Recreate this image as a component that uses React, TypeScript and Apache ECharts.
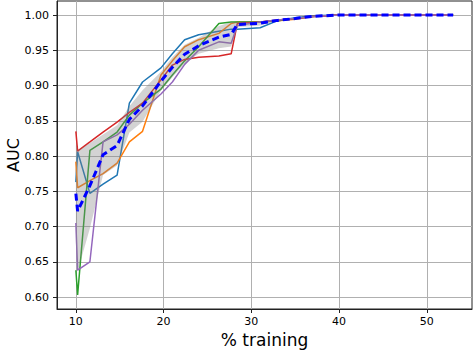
import React, { useEffect, useRef } from "react";
import * as echarts from "echarts";

const xPct = [10, 10.2, 11.6, 13.1, 14.7, 16.1, 17.6, 19.7, 21.0, 22.4, 24.0, 26.3, 27.7, 28.4, 31.0, 33.0, 35.0, 37.0, 40.0, 53.0];

const run0 = [0.763, 0.806, 0.747, 0.760, 0.773, 0.875, 0.905, 0.925, 0.945, 0.965, 0.972, 0.977, 0.980, 0.980, 0.982, 0.992, 0.996, 0.999, 1.0, 1.0];
const run1 = [0.792, 0.755, 0.765, 0.775, 0.790, 0.820, 0.835, 0.915, 0.935, 0.955, 0.965, 0.974, 0.988, 0.990, 0.990, 0.992, 0.994, 0.998, 1.0, 1.0];
const run2 = [0.638, 0.603, 0.808, 0.820, 0.834, 0.858, 0.875, 0.895, 0.915, 0.935, 0.955, 0.988, 0.990, 0.990, 0.990, 0.992, 0.995, 0.998, 1.0, 1.0];
const run3 = [0.835, 0.807, 0.820, 0.834, 0.848, 0.862, 0.875, 0.908, 0.929, 0.937, 0.940, 0.942, 0.945, 0.988, 0.990, 0.993, 0.995, 0.998, 1.0, 1.0];
const run4 = [0.705, 0.638, 0.650, 0.820, 0.830, 0.845, 0.865, 0.888, 0.905, 0.930, 0.950, 0.962, 0.960, 0.985, 0.990, 0.993, 0.995, 0.998, 1.0, 1.0];

const runs = [run0, run1, run2, run3, run4];
const runColors = ["#1f77b4", "#ff7f0e", "#2ca02c", "#d62728", "#9467bd"];

const xTicks = [10, 20, 30, 40, 50];
const yTicks = [0.6, 0.65, 0.7, 0.75, 0.8, 0.85, 0.9, 0.95, 1.0];

export default function App() {
  const ref = useRef<HTMLDivElement>(null);
  useEffect(() => {
    if (!ref.current) return;
    const chart = echarts.init(ref.current, null, { renderer: "svg" });
    const mean = xPct.map((_, i) => runs.reduce((s, r) => s + r[i], 0) / runs.length);
    const std = xPct.map((_, i) =>
      Math.sqrt(runs.reduce((s, r) => s + (r[i] - mean[i]) ** 2, 0) / runs.length)
    );
    const bandData = xPct.map((x, i) => [x, mean[i] - std[i], mean[i] + std[i]]);
    const font = "DejaVu Sans";
    const series: any[] = runs.map((r, k) => ({
      type: "line",
      data: xPct.map((x, i) => [x, r[i]]),
      symbol: "none",
      lineStyle: { color: runColors[k], width: 1.5 },
      z: 2,
    }));
    series.push({
      type: "custom",
      data: bandData,
      encode: { x: 0, y: [1, 2] },
      clip: true,
      z: 3,
      renderItem: (params: any, api: any) => {
        if (params.dataIndex !== 0) return null;
        const top = bandData.map((d) => api.coord([d[0], d[2]]));
        const bot = bandData.map((d) => api.coord([d[0], d[1]])).reverse();
        return {
          type: "polygon",
          shape: { points: top.concat(bot) },
          style: { fill: "rgba(128,128,128,0.35)", stroke: "none" },
        };
      },
    });
    series.push({
      type: "line",
      data: xPct.map((x, i) => [x, mean[i]]),
      symbol: "none",
      lineStyle: { color: "#0000ff", width: 3, type: [7, 4] },
      z: 4,
    });
    chart.setOption({
      animation: false,
      grid: {
        left: 57,
        right: 2,
        top: 1,
        bottom: 42,
        containLabel: false,
        outerBoundsMode: "none",
        show: true,
        borderColor: "#222",
        borderWidth: 1,
        backgroundColor: "transparent",
      },
      xAxis: {
        type: "value",
        min: 7.85,
        max: 55.15,
        name: "% training",
        nameLocation: "middle",
        nameGap: 22,
        nameMoveOverlap: false,
        nameTextStyle: { fontFamily: font, fontSize: 17, color: "#000" },
        axisLine: { show: true, onZero: false, lineStyle: { color: "#222" } },
        axisTick: { show: true, length: 4, customValues: xTicks, lineStyle: { color: "#222" } },
        axisLabel: {
          customValues: xTicks,
          margin: 7,
          fontFamily: font,
          fontSize: 11,
          color: "#000",
        },
        splitLine: { show: true, lineStyle: { color: "#b0b0b0", width: 1 } },
      },
      yAxis: {
        type: "value",
        min: 0.583,
        max: 1.0199,
        name: "AUC",
        nameLocation: "middle",
        nameGap: 36,
        nameMoveOverlap: false,
        nameTextStyle: { fontFamily: font, fontSize: 16, color: "#000" },
        axisLine: { show: true, onZero: false, lineStyle: { color: "#222" } },
        axisTick: { show: true, length: 4, customValues: yTicks, lineStyle: { color: "#222" } },
        axisLabel: {
          customValues: yTicks,
          margin: 8,
          fontFamily: font,
          fontSize: 11,
          color: "#000",
          formatter: (v: number) => v.toFixed(2),
        },
        splitLine: { show: true, lineStyle: { color: "#b0b0b0", width: 1 } },
      },
      series,
    });
    return () => chart.dispose();
  }, []);
  return <div ref={ref} style={{ width: 474, height: 351, position: "absolute", left: 0, top: 0 }} />;
}
